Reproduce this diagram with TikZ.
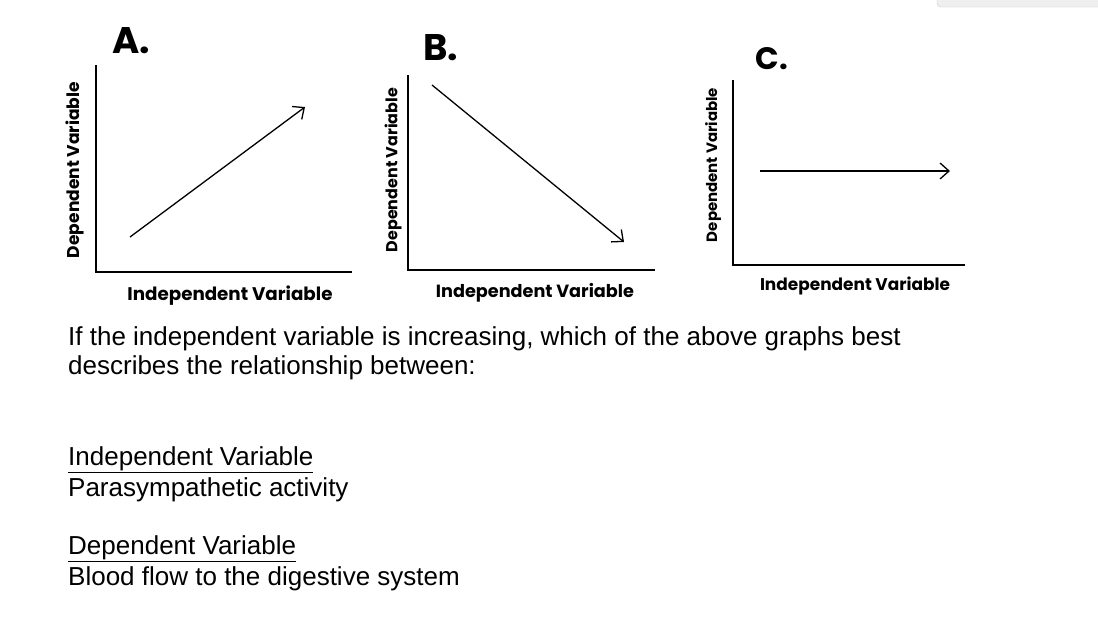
\documentclass[tikz,border=0pt]{standalone}
\usepackage{fontspec}
\setmainfont{Liberation Sans}
\newfontfamily\gfont{Poppins}
\usetikzlibrary{arrows.meta}
\begin{document}
\begin{tikzpicture}[x=1pt,y=-1pt,
  axis/.style={line width=2.4pt},
  curve/.style={line width=1.3pt,-{Straight Barb[length=9pt,width=16pt,line width=1.3pt]}},
  lbl/.style={inner sep=0,font=\gfont},
  q/.style={anchor=west,inner sep=0,font=\fontsize{26}{30}\selectfont}]
\useasboundingbox (0,0) rectangle (1098,616);
\fill[fill=white] (0,0) rectangle (1098,616);
\draw[fill=blue!5!gray!12,draw=gray!40,rounded corners=4pt] (937,-10) rectangle (1110,7);
% A
\draw[axis] (96,65) -- (96,272) -- (352,272);
\coordinate (a1) at (130,237); \coordinate (a2) at (305,107);
\draw[curve] (a1) -- (a2);
\node[lbl] (ta) at (131,41) {\resizebox{!}{26pt}{\bfseries A.}};
\node[lbl,rotate=90] (ya) at (75,170) {\resizebox{176pt}{!}{\bfseries Dependent Variable}};
\node[lbl] (xa) at (230,296) {\resizebox{205pt}{!}{\bfseries Independent Variable}};
% B
\draw[axis] (408,75) -- (408,270) -- (655,270);
\coordinate (b1) at (432,85); \coordinate (b2) at (624,242);
\draw[curve] (b1) -- (b2);
\node[lbl] (tb) at (441,48) {\resizebox{!}{26pt}{\bfseries B.}};
\node[lbl,rotate=90] (yb) at (393,170) {\resizebox{164pt}{!}{\bfseries Dependent Variable}};
\node[lbl] (xb) at (535,293) {\resizebox{198pt}{!}{\bfseries Independent Variable}};
% C
\draw[axis] (733,80) -- (733,265) -- (965,265);
\coordinate (c1) at (760,171); \coordinate (c2) at (950,171);
\draw[curve] (c1) -- (c2);
\node[lbl] (tc) at (772,59) {\resizebox{!}{22pt}{\bfseries C.}};
\node[lbl,rotate=90] (yc) at (713,165) {\resizebox{154pt}{!}{\bfseries Dependent Variable}};
\node[lbl] (xc) at (855,286) {\resizebox{190pt}{!}{\bfseries Independent Variable}};
% text
\node[q] (q1) at (68,339) {If the independent variable is increasing, which of the above graphs best};
\node[q] (q2) at (68,368) {describes the relationship between:};
\node[q] (i1) at (68,460) {\underline{Independent Variable}};
\node[q] (i2) at (68,490) {Parasympathetic activity};
\node[q] (d1) at (68,549) {\underline{Dependent Variable}};
\node[q] (d2) at (68,579) {Blood flow to the digestive system};
\end{tikzpicture}
\end{document}
